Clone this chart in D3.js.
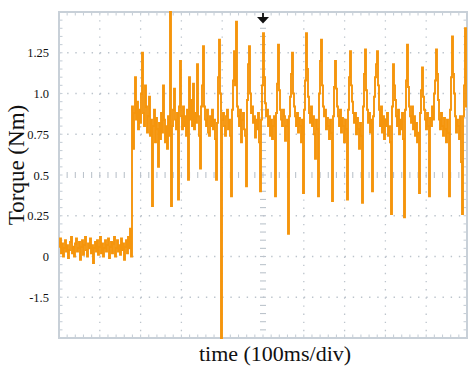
<!DOCTYPE html>
<html>
<head>
<meta charset="utf-8">
<script src="https://cdn.jsdelivr.net/npm/d3@7"></script>
<style>
  html, body { margin: 0; padding: 0; background: #ffffff; }
  svg { display: block; }
</style>
</head>
<body>
<svg id="chart" width="474" height="372"></svg>
<script>
// ---- data (torque samples, Nm, one sample per time step) ----
const preStep = [
  0.06, 0.11, 0.02, 0.08, 0.00, 0.05, 0.10, 0.03, 0.07, -0.01, 0.04, 0.09, 0.12, 0.02, 0.06, 0.00, 0.08, 0.11, 0.03, 0.05,
  0.09, -0.02, 0.06, 0.10, 0.01, 0.07, 0.12, 0.04, 0.00, 0.08, 0.05, 0.11, 0.02, 0.07, -0.04, 0.05, 0.09, 0.03, 0.10, 0.01,
  0.06, 0.12, 0.02, 0.08, 0.00, 0.05, 0.10, 0.03, 0.07, 0.11, -0.01, 0.06, 0.09, 0.02, 0.08, 0.12, 0.00, 0.05, 0.10, 0.03,
  0.07, 0.01, 0.11, 0.04, 0.08, -0.02, 0.06, 0.10, 0.02, 0.12, 0.05, 0.17, 0.00
];
const transient = [
  0.92, 0.66, 0.88, 1.10, 0.84, 0.95, 0.78, 0.90, 0.82, 1.00,
  1.25, 0.88, 0.80, 1.05, 0.92, 0.76, 0.86, 0.98, 0.74, 0.84,
  0.31, 0.80, 0.90, 0.70, 0.85, 0.78, 0.55, 0.82, 0.72, 0.88,
  0.76, 1.05, 0.84, 0.70, 0.80, 0.66, 0.86, 0.74, 1.50, 0.31,
  0.80, 0.90, 1.03, 0.84, 0.78, 0.88, 0.35, 0.92, 1.20, 0.86,
  0.78, 0.92, 0.80, 0.86, 0.74, 0.90, 0.47, 1.10, 0.84, 0.96,
  0.80, 1.06, 0.78, 0.88, 0.82, 1.18, 0.86, 0.74, 0.54, 0.92,
  1.05, 1.29, 0.92, 0.84, 0.80, 0.90, 0.76, 0.74, 0.86, 0.80,
  0.90, 0.78, 0.84, 0.72, 0.47, 0.82, 1.10, 1.33, 1.00, -0.50,
  0.84, 0.88, 0.80, 0.74, 0.86, 0.90, 0.78, 0.84, 0.74, 0.37,
  0.90, 1.08, 1.26, 1.05, 1.44, 0.92, 0.86, 0.80, 0.90, 0.70,
  0.84, 0.88, 0.78, 0.74, 0.43, 0.96, 1.18, 1.29, 1.00, 0.88,
  0.92, 0.82, 0.86, 0.73, 0.84, 0.78, 0.88, 0.70, 0.40, 0.84
];
const steady = [
  1.05, 1.37, 1.10, 0.94, 0.86, 0.90, 0.80, 0.86, 0.74, 0.84,
  0.72, 0.80, 0.86, 0.37, 0.88, 1.06, 1.30, 1.02, 0.90, 0.84,
  0.80, 0.90, 0.86, 0.71, 0.80, 0.84, 0.14, 0.86, 0.98, 1.12,
  1.25, 1.00, 0.92, 0.86, 0.80, 0.88, 0.76, 0.85, 0.80, 0.70,
  0.84, 0.39, 0.90, 1.08, 1.37, 1.15, 0.98, 0.88, 0.82, 0.92,
  0.80, 0.86, 0.75, 0.60, 0.84, 0.78, 0.37, 1.00, 1.20, 1.33,
  1.05, 0.92, 0.86, 0.90, 0.78, 0.85, 0.80, 0.72, 0.84, 0.76,
  0.34, 0.86, 1.04, 1.20, 1.03, 0.92, 0.86, 0.80, 0.90, 0.76,
  0.85, 0.80, 0.70, 0.84, 0.78, 0.35, 0.90, 1.10, 1.26, 1.05,
  0.95, 0.88, 0.82, 0.88, 0.75, 0.85, 0.78, 0.66, 0.82, 0.74,
  0.33, 0.92, 1.12, 1.27, 1.02, 0.90, 0.82, 0.88, 0.76, 0.84,
  0.40, 0.86, 0.98, 1.10, 1.18, 1.26, 1.05, 0.90, 0.80, 0.92,
  0.76, 0.86, 0.72, 0.84, 0.80, 0.88, 0.74, 0.80, 0.70, 0.26,
  0.92, 1.18, 1.05, 0.96, 0.86, 0.80, 0.90, 0.75, 0.84, 0.78,
  0.88, 0.72, 0.24, 0.90, 1.08, 1.30, 1.04, 0.92, 0.86, 0.82,
  0.92, 0.78, 0.86, 0.74, 0.82, 0.70, 0.76, 0.39, 0.88, 1.02,
  1.16, 0.98, 0.90, 0.84, 0.78, 0.88, 0.80, 0.37, 0.85, 0.80,
  0.92, 0.84, 1.00, 1.08, 1.27, 1.12, 0.96, 0.84, 0.78, 0.88,
  0.80, 0.74, 0.85, 0.78, 0.70, 0.84, 0.76, 0.37, 0.90, 1.10,
  1.35, 1.12, 1.00, 0.86, 0.76, 0.84, 0.80, 0.72, 0.86, 0.58,
  0.26, 0.86, 1.05, 1.40, 0.92
];
const torque = preStep.concat(transient, steady);

const yTickValues = [1.25, 1.0, 0.75, 0.5, 0.25, 0, -0.25];
const yTickLabels = ["1.25", "1.0", "0.75", "0.5", "0.25", "0", "-1.5"];
const xDivisions = 10;
const yDivisions = 8;
const yAxisTitle = "Torque (Nm)";
const xAxisTitle = "time (100ms/div)";

// ---- layout ----
const svg = d3.select("#chart");
const L = 59, R = 467, T = 12, B = 338;

const x = d3.scaleLinear().domain([0, torque.length]).range([L, R]);
const y = d3.scaleLinear().domain([-0.5, 1.5]).range([B, T]);
const gx = d3.scaleLinear().domain([0, xDivisions]).range([L, R]);
const gy = d3.scaleLinear().domain([0, yDivisions]).range([T, B]);

const gridCol = "#bcc4cc";
const borderCol = "#c8d0d8";
const minorX = (R - L) / (xDivisions * 5);
const minorY = (B - T) / (yDivisions * 5);

const grid = svg.append("g");

// dotted major grid lines
for (let k = 1; k < xDivisions; k++) {
  if (k === xDivisions / 2) continue;
  grid.append("line")
    .attr("x1", gx(k)).attr("x2", gx(k)).attr("y1", T).attr("y2", B)
    .attr("stroke", gridCol).attr("stroke-width", 1.3)
    .attr("stroke-dasharray", `1.4 ${minorY - 1.4}`);
}
for (let k = 1; k < yDivisions; k++) {
  if (k === yDivisions / 2) continue;
  grid.append("line")
    .attr("y1", gy(k)).attr("y2", gy(k)).attr("x1", L).attr("x2", R)
    .attr("stroke", gridCol).attr("stroke-width", 1.3)
    .attr("stroke-dasharray", `1.4 ${minorX - 1.4}`);
}

// centre cross with ticks, border ticks
const cx = gx(xDivisions / 2), cy = gy(yDivisions / 2);
d3.range(0, xDivisions * 5 + 1).forEach(k => {
  const xx = L + k * minorX;
  grid.append("line").attr("x1", xx).attr("x2", xx).attr("y1", cy - 3).attr("y2", cy + 3)
    .attr("stroke", gridCol).attr("stroke-width", 1.1);
  grid.append("line").attr("x1", xx).attr("x2", xx).attr("y1", T).attr("y2", T + 3.5)
    .attr("stroke", borderCol).attr("stroke-width", 1.1);
  grid.append("line").attr("x1", xx).attr("x2", xx).attr("y1", B).attr("y2", B - 3.5)
    .attr("stroke", borderCol).attr("stroke-width", 1.1);
});
d3.range(0, yDivisions * 5 + 1).forEach(k => {
  const yy = T + k * minorY;
  grid.append("line").attr("y1", yy).attr("y2", yy).attr("x1", cx - 3).attr("x2", cx + 3)
    .attr("stroke", gridCol).attr("stroke-width", 1.1);
  grid.append("line").attr("y1", yy).attr("y2", yy).attr("x1", L).attr("x2", L + 3.5)
    .attr("stroke", borderCol).attr("stroke-width", 1.1);
  grid.append("line").attr("y1", yy).attr("y2", yy).attr("x1", R).attr("x2", R - 3.5)
    .attr("stroke", borderCol).attr("stroke-width", 1.1);
});

// border
grid.append("rect").attr("x", L).attr("y", T).attr("width", R - L).attr("height", B - T)
  .attr("fill", "none").attr("stroke", borderCol).attr("stroke-width", 2);

// signal
const line = d3.line()
  .x((d, i) => x(i))
  .y(d => y(d))
  .curve(d3.curveStepAfter);
svg.append("path")
  .datum(torque.concat([torque[torque.length - 1]]))
  .attr("d", line)
  .attr("fill", "none")
  .attr("stroke", "#f5950c")
  .attr("stroke-width", 1.9)
  .attr("stroke-linejoin", "miter");

// trigger marker
const mk = svg.append("g").attr("transform", `translate(${cx},0)`);
mk.append("line").attr("x1", 0).attr("x2", 0).attr("y1", 13).attr("y2", 19)
  .attr("stroke", "#111").attr("stroke-width", 1.8);
mk.append("path").attr("d", "M-6,17 L6,17 L0,23.5 Z").attr("fill", "#111");

// y axis labels
const yAxis = d3.axisLeft(y).tickValues(yTickValues)
  .tickFormat((d, i) => yTickLabels[i]).tickSize(0).tickPadding(10);
const ya = svg.append("g").attr("transform", `translate(${L},0)`).call(yAxis);
ya.select(".domain").remove();
ya.selectAll("text")
  .attr("font-family", "'Liberation Serif', 'DejaVu Serif', serif")
  .attr("font-size", 12.5).attr("fill", "#111");

// titles
svg.append("text")
  .attr("transform", `translate(24,165) rotate(-90)`)
  .attr("text-anchor", "middle")
  .attr("font-family", "'Liberation Serif', 'DejaVu Serif', serif")
  .attr("font-size", 23).attr("fill", "#111")
  .text(yAxisTitle);
svg.append("text")
  .attr("x", 275).attr("y", 361)
  .attr("text-anchor", "middle")
  .attr("font-family", "'Liberation Serif', 'DejaVu Serif', serif")
  .attr("font-size", 22).attr("fill", "#111")
  .text(xAxisTitle);
</script>
</body>
</html>
